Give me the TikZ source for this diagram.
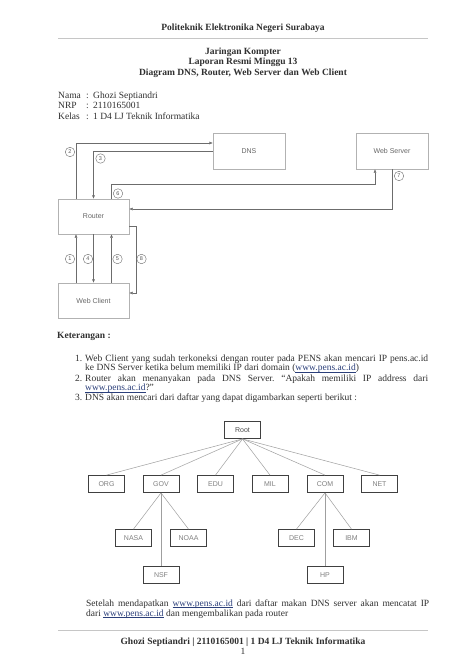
\documentclass[tikz,border=0pt]{standalone}
\usepackage{fontspec}
\setmainfont{Liberation Serif}
\setsansfont{Liberation Sans}
\usetikzlibrary{arrows.meta,calc,positioning}
\definecolor{ink}{HTML}{303030}
\definecolor{urlblue}{HTML}{2B3F7A}
\newsavebox{\linkbox}
\newcommand{\weblink}[1]{{\color{urlblue}\sbox{\linkbox}{#1}\rlap{\rule[-1.4pt]{\wd\linkbox}{0.45pt}}\usebox{\linkbox}}}
\frenchspacing

\tikzset{
  txt/.style={anchor=mid west, inner sep=0pt, text=ink, font=\fontsize{9.5}{11}\selectfont},
  ttl/.style={anchor=mid, inner sep=0pt, text=ink, font=\fontsize{9.5}{11}\selectfont\bfseries},
  blok/.style={draw=gray!60, minimum width=71pt, minimum height=35pt, inner sep=0pt,
    font=\sffamily\fontsize{7}{8}\selectfont, text=gray!80!black},
  tbox/.style={draw=black!75, line width=0.8pt, minimum width=36pt, minimum height=17pt, inner sep=0pt,
    font=\sffamily\fontsize{7}{8}\selectfont, text=gray},
  num/.style={circle, draw=gray!85!black, minimum size=9.5pt, inner sep=0pt,
    font=\sffamily\fontsize{5.5}{6}\selectfont, text=gray!70!black},
  arr/.style={draw=gray!85!black, -{Latex[length=3.5pt,width=3pt]}},
  tline/.style={draw=gray!75, line width=0.5pt}
}

\begin{document}
\begin{tikzpicture}[x=1pt,y=-1pt]
\useasboundingbox[fill=white] (0,0) rectangle (474,670);

% header
\node[ttl] (head) at (243,28) {Politeknik Elektronika Negeri Surabaya};
\draw[gray!45] (58,38) -- (428,38);
\node[ttl] (t1) at (243,52) {Jaringan Kompter};
\node[ttl] (t2) at (243,62.5) {Laporan Resmi Minggu 13};
\node[ttl] (t3) at (243,73) {Diagram DNS, Router, Web Server dan Web Client};

\node[txt] (nama) at (58,96) {Nama};
\node[txt] (nrp) at (58,106.5) {NRP};
\node[txt] (kelas) at (58,117) {Kelas};
\node[txt] (c1) at (86,96) {:};
\node[txt] (c2) at (86,106.5) {:};
\node[txt] (c3) at (86,117) {:};
\node[txt] (v1) at (93,96) {Ghozi Septiandri};
\node[txt] (v2) at (93,106.5) {2110165001};
\node[txt] (v3) at (93,117) {1 D4 LJ Teknik Informatika};

% diagram
\node[blok, minimum width=72pt, minimum height=36pt] (dns) at (249,151) {DNS};
\node[blok, minimum width=72pt, minimum height=36pt] (websrv) at (392,151) {Web Server};
\node[blok] (router) at (93.5,216.5) {Router};
\node[blok] (client) at (93.5,300.5) {Web Client};

\draw[arr] ([xshift=-17.5pt]router.north) |- ([yshift=8pt]dns.west);
\draw[arr] (dns.west) -| (router.north);
\draw[arr] ([xshift=18pt]router.north) -- ++(0,-15) -| ([xshift=-17pt]websrv.south);
\draw[arr] (websrv.south) |- ([yshift=7.5pt]router.east);
\draw[arr] ([yshift=-9.5pt]router.east) -- ++(7,0) |- ([yshift=7.5pt]client.east);
\draw[arr] ([xshift=-17.5pt]client.north) -- ([xshift=-17.5pt]router.south);
\draw[arr] (router.south) -- (client.north);
\draw[arr] ([xshift=18pt]client.north) -- ([xshift=18pt]router.south);

\node[num] (n2) at (70,152) {2};
\node[num] (n3) at (100.5,158.5) {3};
\node[num] (n6) at (118,193.5) {6};
\node[num] (n7) at (399,176) {7};
\node[num] (n1) at (70,259) {1};
\node[num] (n4) at (88,259) {4};
\node[num] (n5) at (117.5,259) {5};
\node[num] (n8) at (141.5,259) {8};

% keterangan
\node[txt, font=\fontsize{9.5}{11}\selectfont\bfseries] (ket) at (57,336) {Keterangan :};
\node[txt] (i1) at (75,359) {1.};
\node[txt] (l1) at (85,359) {\makebox[343pt][s]{Web Client yang sudah terkoneksi dengan router pada PENS akan mencari IP pens.ac.id}};
\node[txt] (l2) at (85,368.5) {ke DNS Server ketika belum memiliki IP dari domain (\weblink{www.pens.ac.id})};
\node[txt] (i2) at (75,379) {2.};
\node[txt] (l3) at (85,379) {\makebox[343pt][s]{Router akan menanyakan pada DNS Server. “Apakah memiliki IP address dari}};
\node[txt] (l4) at (85,388.5) {\weblink{www.pens.ac.id}?”};
\node[txt] (i3) at (75,398.5) {3.};
\node[txt] (l5) at (85,398.5) {DNS akan mencari dari daftar yang dapat digambarkan seperti berikut :};

% tree
\node[tbox, text=gray!60!black] (root) at (242.5,430) {Root};
\foreach \nm/\x in {ORG/106.5,GOV/161,EDU/215.5,MIL/270,COM/325,NET/379.5} {
  \node[tbox] (\nm) at (\x,484) {\nm};
  \draw[tline] (root.south) -- (\nm.north);
}
\node[tbox] (NASA) at (133.5,538) {NASA};
\node[tbox] (NOAA) at (188.5,538) {NOAA};
\node[tbox] (NSF) at (161,575) {NSF};
\node[tbox] (DEC) at (296.5,538) {DEC};
\node[tbox] (IBM) at (351.5,538) {IBM};
\node[tbox] (HP) at (325,575) {HP};
\foreach \a/\b in {GOV/NASA,GOV/NOAA,GOV/NSF,COM/DEC,COM/IBM,COM/HP}
  \draw[tline] (\a.south) -- (\b.north);

% penutup
\node[txt] (s1) at (86,604) {\makebox[343pt][s]{Setelah mendapatkan \weblink{www.pens.ac.id} dari daftar makan DNS server akan mencatat IP}};
\node[txt] (s2) at (86,614) {dari \weblink{www.pens.ac.id} dan mengembalikan pada router};

% footer
\draw[gray!45] (58,630) -- (428,630);
\node[ttl] (foot) at (243,642) {Ghozi Septiandri | 2110165001 | 1 D4 LJ Teknik Informatika};
\node[anchor=mid, inner sep=0pt, text=ink, font=\fontsize{9.5}{11}\selectfont] (page) at (243,652) {1};
\end{tikzpicture}
\end{document}
